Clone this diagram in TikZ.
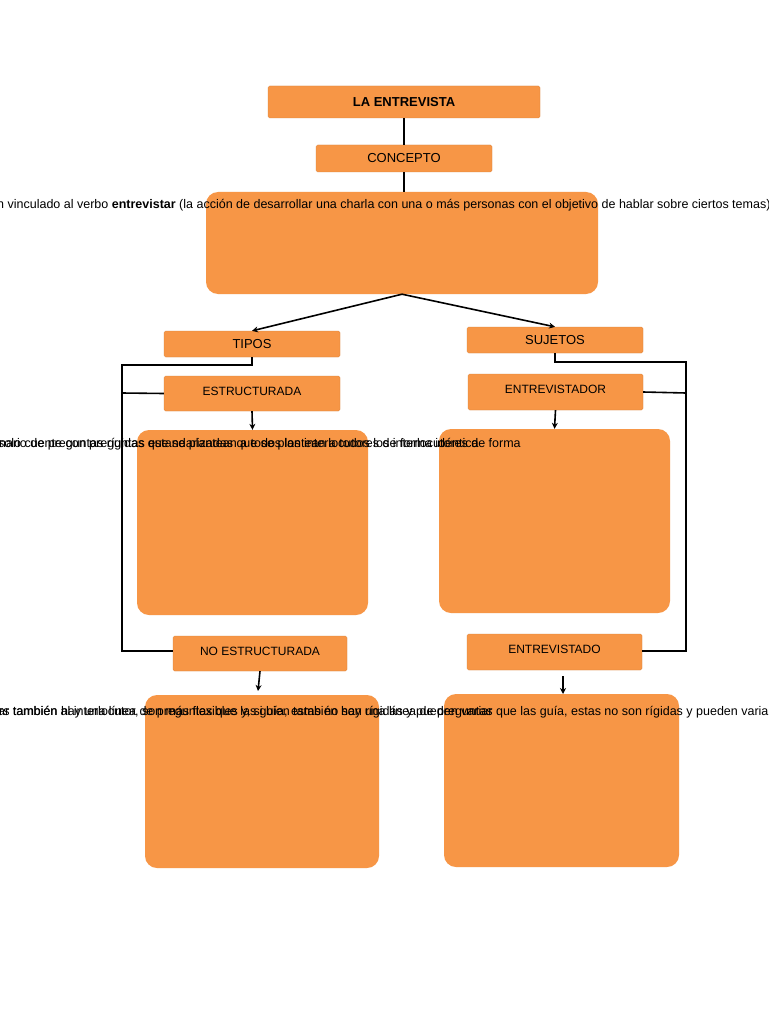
\documentclass[tikz,border=0pt]{standalone}
\usepackage{fontspec}
\setmainfont{Liberation Sans}
\usetikzlibrary{arrows.meta}
\definecolor{org}{HTML}{F79646}
\begin{document}
\begin{tikzpicture}[x=1pt,y=-1pt,
 lab/.style={fill=org,draw=org!85!black,line width=0.3pt,rounded corners=1.5pt,font=\fontsize{13}{15}\selectfont,inner sep=0pt},
 big/.style={fill=org,draw=none,rounded corners=12pt,inner sep=0pt},
 ln/.style={line width=1.6pt},
 ar/.style={line width=1.6pt,-{Stealth[length=6pt,width=6pt]}},
 txt/.style={font=\fontsize{12.5}{15}\selectfont,anchor=base west,inner sep=0pt}]
\useasboundingbox (0,0) rectangle (768,1024);
\fill[white] (0,0) rectangle (768,1024);
% boxes
\node[lab,minimum width=272,minimum height=32,font=\fontsize{13}{15}\selectfont\bfseries] (title) at (404,102) {LA ENTREVISTA};
\node[lab,minimum width=176,minimum height=27] (conc) at (404,158.5) {CONCEPTO};
\node[big,minimum width=392,minimum height=102] (def) at (402,243) {};
\node[lab,minimum width=176,minimum height=26] (tipos) at (252,344) {TIPOS};
\node[lab,minimum width=176,minimum height=26] (suj) at (555,340) {SUJETOS};
\node[lab,minimum width=176,minimum height=35,font=\fontsize{12}{14}\selectfont] (est) at (252,393.5) {\raisebox{4pt}{ESTRUCTURADA}};
\node[lab,minimum width=175,minimum height=36,font=\fontsize{12}{14}\selectfont] (entor) at (555.5,392) {\raisebox{5pt}{ENTREVISTADOR}};
\node[big,minimum width=231,minimum height=185] (b1) at (252.5,522.5) {};
\node[big,minimum width=231,minimum height=184] (b2) at (554.5,521) {};
\node[lab,minimum width=174,minimum height=35,font=\fontsize{12}{14}\selectfont] (noest) at (260,653.5) {\raisebox{4pt}{NO ESTRUCTURADA}};
\node[lab,minimum width=175,minimum height=36,font=\fontsize{12}{14}\selectfont] (entdo) at (554.5,652) {\raisebox{6pt}{ENTREVISTADO}};
\node[big,minimum width=234,minimum height=173] (b3) at (262,781.5) {};
\node[big,minimum width=235,minimum height=173] (b4) at (561.5,780.5) {};
% connectors
\draw[ln] (title.south) -- (conc.north);
\draw[ln] (conc.south) -- (conc.south |- def.north);
\draw[ar] (def.south) -- (tipos.north);
\draw[ar] (def.south) -- (suj.north);
\coordinate (tl) at (122,365);
\coordinate (bl) at (122,651);
\draw[ln] (tipos.south) -- (252,365) -- (tl) -- (bl) -- (noest.west |- bl);
\draw[ln] (122,393) -- (est.west);
\coordinate (tr) at (686,362);
\coordinate (br) at (686,651);
\draw[ln] (suj.south) -- (555,362) -- (tr) -- (br) -- (entdo.east |- br);
\draw[ln] (686,393) -- (entor.east);
\draw[ar] (est.south) -- (b1.north);
\draw[ar] (entor.south) -- (b2.north);
\coordinate (a3) at (258,691);
\coordinate (a4s) at (563,676);
\coordinate (a4) at (563,694);
\draw[ar] (noest.south) -- (a3);
\draw[ar] (a4s) -- (a4);
% overflowing texts
\node[txt] (t1) at (-3,209) {n vinculado al verbo \textbf{entrevistar} (la acción de desarrollar una charla con una o más personas con el objetivo de hablar sobre ciertos temas)};
\node[txt] (t2a) at (-2,447) {solo cuente con preguntas estandarizadas que se plantean a todos los interlocutores de forma};
\node[txt] (t2b) at (-8,447) {onario de preguntas rígidas que se plantean a todos los interlocutores de forma idéntica};
\node[txt] (t3a) at (-2,715) {ar también al interlocutor, son más flexibles y, si bien también hay una línea de preguntas que las guía, estas no son rígidas y pueden variar};
\node[txt] (t3b) at (-1,715) {rs también hay una línea de preguntas que las guía, estas no son rígidas y pueden variar};
\end{tikzpicture}
\end{document}
